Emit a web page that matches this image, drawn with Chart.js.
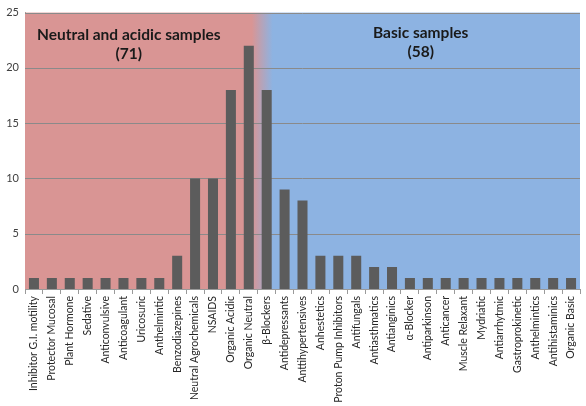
<!DOCTYPE html>
<html><head><meta charset="utf-8">
<script src="https://cdn.jsdelivr.net/npm/chart.js@4.4.0/dist/chart.umd.min.js"></script>
<style>html,body{margin:0;padding:0;background:#fff}#w{width:586px;height:406px}</style>
</head><body><div id="w"><canvas id="c"></canvas></div>
<script>
const categories = ["Inhibitor G.I. motility","Protector Mucosal","Plant Hormone","Sedative","Anticonvulsive","Anticoagulant","Uricosuric","Anthelmintic","Benzodiazepines","Neutral Agrochemicals","NSAIDS","Organic Acidic","Organic Neutral","β-Blockers","Antidepressants","Anttihypertensives","Anhestetics","Proton Pump Inhibitors","Antifungals","Antiasthmatics","Antianginics","α-Blocker","Antiparkinson","Anticancer","Muscle Relaxant","Mydriatic","Antiarrhytmic","Gastroprokinetic","Anthelmintics","Antihistaminics","Organic Basic"];
const counts = [1,1,1,1,1,1,1,1,3,10,10,18,22,18,9,8,3,3,3,2,2,1,1,1,1,1,1,1,1,1,1];
const yTicks = [0,5,10,15,20,25];
const groupLabels = [["Neutral and acidic samples","(71)"],["Basic samples","(58)"]];
const FONT = "Lato, 'Open Sans', sans-serif";

const bgPlugin = {
  id:'bg',
  beforeDatasetsDraw(chart){
    const {ctx, chartArea:a, scales:{x}} = chart;
    const x1 = x.getPixelForValue(12) + 3;
    const x2 = x.getPixelForValue(13) + 6;
    const g = ctx.createLinearGradient(x1,0,x2,0);
    g.addColorStop(0,'#D99594');
    g.addColorStop(1,'#8DB3E2');
    ctx.save();
    ctx.fillStyle = g;
    ctx.fillRect(a.left, a.top, a.right-a.left, a.bottom-a.top);
    ctx.restore();
  }
};
const gridPlugin = {
  id:'grid2',
  beforeDatasetsDraw(chart){
    const {ctx, chartArea:a, scales:{y}} = chart;
    ctx.save();
    ctx.strokeStyle = '#8a8a8a'; ctx.lineWidth = 1;
    yTicks.forEach(v=>{ if(v===0) return; const py = Math.round(y.getPixelForValue(v))+0.5; ctx.beginPath(); ctx.moveTo(a.left,py); ctx.lineTo(a.right,py); ctx.stroke(); });
    ctx.restore();
  },
  afterDatasetsDraw(chart){
    const {ctx, scales:{x,y}} = chart;
    ctx.save();
    ctx.fillStyle = '#1a1a1a';
    ctx.font = "bold 15.5px " + FONT;
    ctx.textAlign = 'center'; ctx.textBaseline = 'middle';
    const pos = [[5.3, 23.0],[21.6, 23.2]];
    groupLabels.forEach((lines,i)=>{
      const px = x.getPixelForValue(pos[i][0]);
      const py = y.getPixelForValue(pos[i][1]);
      lines.forEach((t,j)=>ctx.fillText(t, px, py + j*19));
    });
    ctx.restore();
  }
};

new Chart(document.getElementById('c'), {
  type:'bar',
  data:{labels:categories, datasets:[{data:counts, backgroundColor:'#5c5c5c', barPercentage:0.56, categoryPercentage:1.0}]},
  options:{
    responsive:true, maintainAspectRatio:false, animation:false,
    devicePixelRatio:1,
    layout:{padding:{top:6,right:6,left:0,bottom:0}},
    plugins:{legend:{display:false}, tooltip:{enabled:false}},
    scales:{
      x:{
        grid:{display:true, drawOnChartArea:false, drawTicks:true, tickLength:5, color:'#9a9a9a', offset:true},
        border:{display:true, color:'#9a9a9a'},
        ticks:{minRotation:90, maxRotation:90, autoSkip:false, color:'#262626', font:{family:FONT, size:10.5}, padding:2},
        afterFit(s){ s.height = 117; }
      },
      y:{
        min:0, max:25,
        afterBuildTicks(s){ s.ticks = yTicks.map(v=>({value:v})); },
        grid:{display:false, drawTicks:false},
        border:{display:true, color:'#9a9a9a'},
        ticks:{color:'#404040', font:{family:FONT, size:11}, padding:6},
        afterFit(s){ s.width = 25; }
      }
    }
  },
  plugins:[bgPlugin, gridPlugin]
});
</script></body></html>
